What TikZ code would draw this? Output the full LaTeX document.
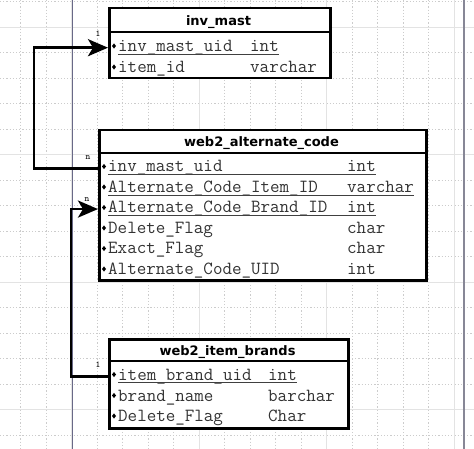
\documentclass[tikz,border=0pt]{standalone}
\usepackage{fontspec}
\newfontfamily\hdfont{DejaVu Sans}
\usetikzlibrary{arrows.meta,calc}
\tikzset{
  minorgrid/.style={draw=gray!40,line width=0.6pt,dash pattern=on 1.2pt off 2pt},
  majorgrid/.style={draw=gray!22,line width=0.8pt},
  tbl/.style={draw=black,line width=2.5pt,fill=white,anchor=north west,inner sep=0pt},
  hd/.style={anchor=base,inner sep=0pt,font=\hdfont\bfseries\fontsize{13}{13}\selectfont},
  rowtxt/.style={anchor=base west,inner sep=0pt,font=\ttfamily\fontsize{18.5}{18.5}\selectfont,text=black!80},
  ul/.style={line width=0.9pt,draw=black!75},
  conn/.style={line width=2.8pt,draw=black},
  lbl/.style={inner sep=0pt,font=\ttfamily\fontsize{9}{9}\selectfont},
  tip/.style={-{Stealth[length=20pt,width=17pt,inset=5pt]}}
}
\newcommand\myrow[6]{%
  \node[rowtxt] (#1) at (#2,#3) {#4};
  \node[rowtxt] (#1t) at (#5,#3) {#6};
  \fill (#2-6,#3-5.5) -- ++(2,-2.6) -- ++(2,2.6) -- ++(-2,2.6) -- cycle;
}
\newcommand\myul[1]{\draw[ul] ($(#1.base west)+(0,2.6)$) -- ($(#1t.base east)+(0,2.6)$);}
\begin{document}
\begin{tikzpicture}[x=1pt,y=-1pt]
\useasboundingbox (0,0) rectangle (474,449);
\fill[white] (0,0) rectangle (474,449);
% grid
\foreach \k in {0,...,18} {\draw[minorgrid] (20.5+25.5*\k,0) -- (20.5+25.5*\k,449);}
\foreach \k in {0,...,17} {\draw[minorgrid] (0,1.5+25.5*\k) -- (474,1.5+25.5*\k);}
\foreach \k in {0,...,3} {\draw[majorgrid] (71.5+127.5*\k,0) -- (71.5+127.5*\k,449);
                          \draw[majorgrid] (0,27+127.5*\k) -- (474,27+127.5*\k);}
\draw[line width=1pt,draw={rgb,255:red,105;green,105;blue,135}] (72,0) -- (72,449);
\draw[line width=2pt,draw={rgb,255:red,135;green,135;blue,150}] (464,0) -- (464,449);
% inv_mast
\node[tbl,minimum width=221pt,minimum height=70pt] (im) at (108,7) {};
\draw[line width=2.2pt] (108,32) -- (329,32);
\node[hd] (imh) at (218.5,26) {inv\_mast};
\myrow{ir1}{118}{51.5}{inv\_mast\_uid}{250}{int}
\myrow{ir2}{118}{72.5}{item\_id}{250}{varchar}
\myul{ir1}
% web2_alternate_code
\node[tbl,minimum width=327pt,minimum height=150pt] (w2) at (98,129) {};
\draw[line width=2.2pt] (98,153) -- (425,153);
\node[hd] (w2h) at (261.5,146.5) {web2\_alternate\_code};
\myrow{wr1}{108}{172}{inv\_mast\_uid}{347}{int}
\myrow{wr2}{108}{192.5}{Alternate\_Code\_Item\_ID}{347}{varchar}
\myrow{wr3}{108}{213}{Alternate\_Code\_Brand\_ID}{347}{int}
\myrow{wr4}{108}{233.5}{Delete\_Flag}{347}{char}
\myrow{wr5}{108}{254}{Exact\_Flag}{347}{char}
\myrow{wr6}{108}{274.5}{Alternate\_Code\_UID}{347}{int}
\myul{wr1}\myul{wr2}\myul{wr3}
% web2_item_brands
\node[tbl,minimum width=239pt,minimum height=89pt] (bt) at (108,338) {};
\draw[line width=2.2pt] (108,361) -- (347,361);
\node[hd] (bth) at (227.5,355.5) {web2\_item\_brands};
\myrow{br1}{118}{380}{item\_brand\_uid}{268}{int}
\myrow{br2}{118}{401}{brand\_name}{268}{barchar}
\myrow{br3}{118}{421.5}{Delete\_Flag}{268}{Char}
\myul{br1}
% connectors
\draw[conn,tip] (w2.west |- wr1) -- ++(-64,0) |- (im.west |- ir1);
\draw[conn,tip] (bt.west |- br1) -- ++(-37,0) |- (w2.west |- wr3);
% labels
\node[lbl] (l1) at (98,34) {1};
\node[lbl] (l2) at (88,158) {n};
\node[lbl] (l3) at (87,200) {n};
\node[lbl] (l4) at (98,365) {1};
\end{tikzpicture}
\end{document}
